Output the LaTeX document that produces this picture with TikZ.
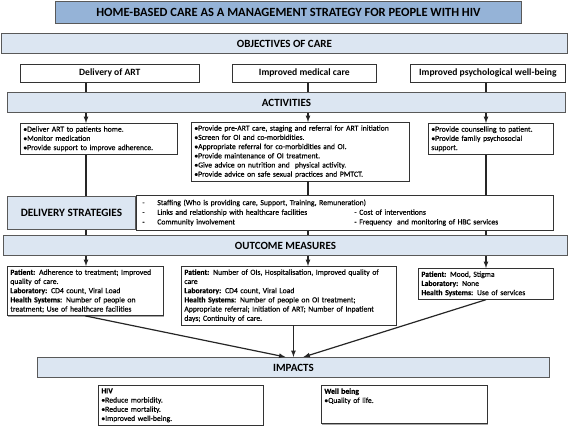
\documentclass[tikz,border=0pt]{standalone}
\usepackage{fontspec}
\setmainfont{Carlito}
\newfontfamily\bodyfont{Carlito}[FakeBold=0.25]
\usepackage{tikz}
\usetikzlibrary{arrows}
\usetikzlibrary{shadows}

\definecolor{titleblue}{HTML}{95B3D7}
\definecolor{bandblue}{HTML}{DCE6F2}
\definecolor{edgegray}{HTML}{595959}

\tikzset{
  boxshadow/.style={drop shadow={shadow xshift=1pt, shadow yshift=-1pt, fill=black, opacity=0.35}},
  heading/.style={draw=edgegray, fill=bandblue, line width=0.9pt, anchor=north west,
    inner sep=0pt, boxshadow, font=\bfseries\fontsize{11}{13}\selectfont},
  objbox/.style={draw=black!80, fill=white, line width=0.7pt, anchor=north west, inner sep=0pt,
    boxshadow, font=\bfseries\fontsize{9.6}{11}\selectfont},
  txtbox/.style={draw=black!80, fill=white, line width=0.7pt, anchor=north west, align=left,
    inner xsep=3pt, inner ysep=3pt, boxshadow, font=\bodyfont\fontsize{7.7}{9.2}\selectfont},
  link/.style={line width=1.2pt, black!85},
}

\begin{document}
\begin{tikzpicture}[x=1pt,y=-1pt]
\useasboundingbox (0,0) rectangle (568,431);
% headings and objectives
\node[heading, fill=titleblue, minimum width=466pt, minimum height=22pt,
  font=\bfseries\fontsize{12.5}{14}\selectfont] (title) at (55,1)
  {HOME-BASED CARE AS A MANAGEMENT STRATEGY FOR PEOPLE WITH HIV};
\node[heading, minimum width=566pt, minimum height=20pt] (objectives) at (1,33) {OBJECTIVES OF CARE};
\node[objbox, minimum width=179pt, minimum height=18pt] (obart) at (20,64) {Delivery of ART};
\node[objbox, minimum width=144pt, minimum height=18pt] (obmed) at (232,64) {Improved medical care};
\node[objbox, minimum width=155pt, minimum height=18pt] (obpsy) at (410,64) {Improved psychological well-being};
% activities
\node[heading, minimum width=558pt, minimum height=20pt] (activities) at (7,92) {ACTIVITIES};
\node[txtbox, text width=151pt] (acart) at (20,123)
  {•Deliver ART to patients home.\\ •Monitor medication\\ •Provide support to improve adherence.};
\node[txtbox, text width=212pt] (acmed) at (191,122)
  {•Provide pre-ART care, staging and referral for ART initiation\\
   •Screen for OI and co-morbidities.\\
   •Appropriate referral for co-morbidities and OI.\\
   •Provide maintenance of OI treatment.\\
   •Give advice on nutrition and~ physical activity.\\
   •Provide advice on safe sexual practices and PMTCT.};
\node[txtbox, text width=119pt] (acpsy) at (428,123)
  {•Provide counselling to patient.\\ •Provide family psychosocial\\ support.};
% delivery strategies
\node[heading, minimum width=128pt, minimum height=33pt,
  font=\bfseries\fontsize{11.2}{13}\selectfont] (strategies) at (7,196) {DELIVERY STRATEGIES};
\node[txtbox, inner xsep=6pt, text width=405pt, minimum height=35pt] (staffing) at (136,195)
  {\renewcommand{\arraystretch}{1.05}%
   \begin{tabular}{@{}p{15pt}@{}p{197pt}@{}l@{}}
   - & \multicolumn{2}{@{}l@{}}{Staffing (Who is providing care, Support, Training, Remuneration)}\\
   - & Links and relationship with healthcare facilities & - Cost of interventions\\
   - & Community involvement & - Frequency~ and monitoring of HBC services
   \end{tabular}};
% outcome measures
\node[heading, minimum width=564pt, minimum height=20pt] (outcomes) at (3,235) {OUTCOME MEASURES};
\node[txtbox, text width=150pt] (ocart) at (7,266)
  {\textbf{Patient:} Adherence to treatment; Improved\\ quality of care.\\
   \textbf{Laboratory:} CD4 count, Viral Load\\
   \textbf{Health Systems:} Number of people on\\ treatment; Use of healthcare facilities};
\node[txtbox, text width=209pt] (ocmed) at (181,266)
  {\textbf{Patient:} Number of OIs, Hospitalisation, Improved quality of\\ care\\
   \textbf{Laboratory:} CD4 count, Viral Load\\
   \textbf{Health Systems:} Number of people on OI treatment;\\
   Appropriate referral; Initiation of ART; Number of Inpatient\\ days; Continuity of care.};
\node[txtbox, text width=129pt] (ocpsy) at (418,268)
  {\textbf{Patient:} Mood, Stigma\\ \textbf{Laboratory:} None\\
   \textbf{Health Systems:} Use of services};
% impacts
\node[heading, minimum width=512pt, minimum height=20pt] (impacts) at (37,357) {IMPACTS};
\node[txtbox, text width=159pt] (hiv) at (98,385)
  {\textbf{HIV}\\ •Reduce morbidity.\\ •Reduce mortality.\\ •Improved well-being.};
\node[txtbox, text width=160pt, text depth=27pt] (wellbeing) at (321,385)
  {\textbf{Well being}\\ •Quality of life.};
% connectors
\coordinate (colart) at (86,0);
\coordinate (colmed) at (308,0);
\coordinate (colpsy) at (486,0);
\draw[link] (obart.south -| colart) -- (activities.north -| colart);
\draw[link] (obmed.south -| colmed) -- (activities.north -| colmed);
\draw[link] (obpsy.south -| colpsy) -- (activities.north -| colpsy);
\draw[link,->,>=latex] (activities.south -| colart) -- (acart.north -| colart);
\draw[link,->,>=latex] (activities.south -| colmed) -- (acmed.north -| colmed);
\draw[link,->,>=latex] (activities.south -| colpsy) -- (acpsy.north -| colpsy);
\draw[link] (acart.south -| colart) -- (strategies.north -| colart);
\draw[link] (acmed.south -| colmed) -- (staffing.north -| colmed);
\draw[link] (acpsy.south -| colpsy) -- (staffing.north -| colpsy);
\draw[link] (strategies.south -| colart) -- (outcomes.north -| colart);
\draw[link] (staffing.south -| colmed) -- (outcomes.north -| colmed);
\draw[link] (staffing.south -| colpsy) -- (outcomes.north -| colpsy);
\draw[link,->,>=latex] (outcomes.south -| colart) -- (ocart.north -| colart);
\draw[link,->,>=latex] (outcomes.south -| colmed) -- (ocmed.north -| colmed);
\draw[link,->,>=latex] (outcomes.south -| colpsy) -- (ocpsy.north -| colpsy);
\draw[link,->,>=latex] (ocart.south) -- ([xshift=-8pt]impacts.north);
\draw[link,->,>=latex] (ocmed.south -| impacts.north) -- (impacts.north);
\draw[link,->,>=latex] (ocpsy.south) -- ([xshift=10pt]impacts.north);
\end{tikzpicture}
\end{document}
